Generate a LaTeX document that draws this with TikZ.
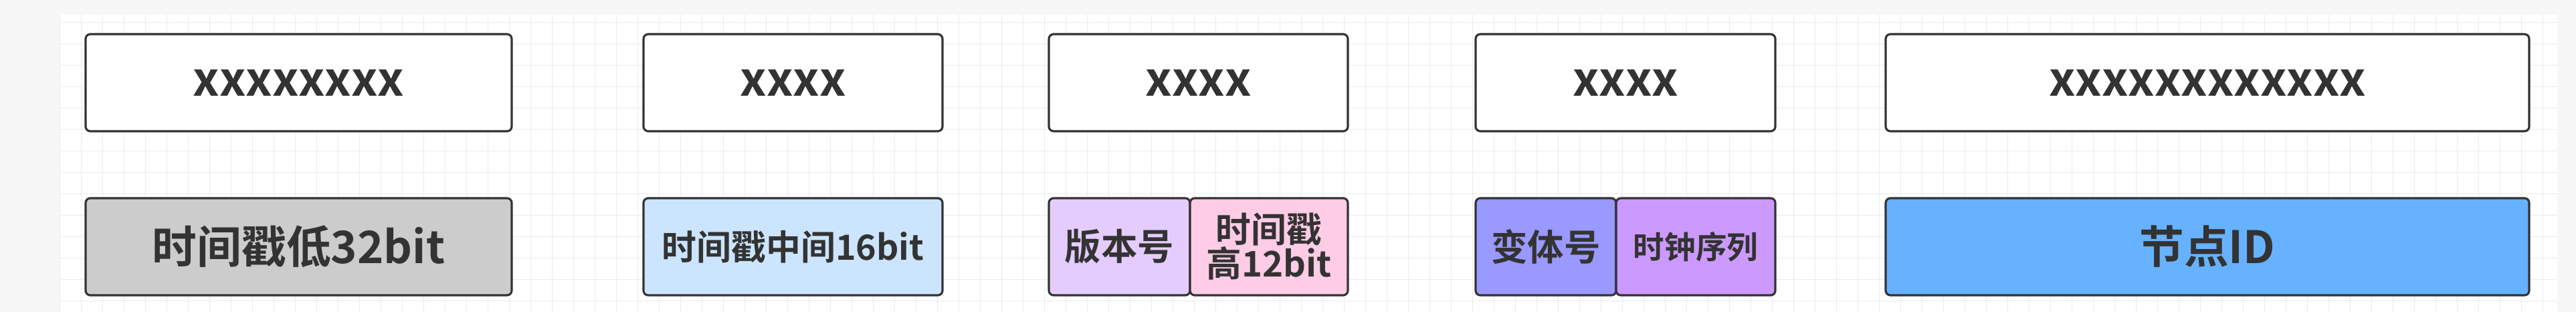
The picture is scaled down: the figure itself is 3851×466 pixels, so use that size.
\documentclass[tikz,border=0pt]{standalone}
\usepackage{fontspec}
\newfontfamily\cjk{Noto Sans CJK SC Bold}
\begin{document}
\begin{tikzpicture}[x=0.02cm,y=-0.02cm,
  cell/.style={draw=black!80,line width=1.8pt,rounded corners=4pt,inner sep=0pt,text=black!80,font=\cjk},
  top/.style={cell,fill=white,font=\cjk\fontsize{40}{44}\selectfont}]
\useasboundingbox (0,0) rectangle (3851,466);
\fill[white] (0,0) rectangle (3851,466);
\fill[black!3] (0,0) rectangle (3851,22);
\fill[black!3] (3823,0) rectangle (3851,466);
\fill[black!3] (0,0) rectangle (89,466);
\begin{scope}
\clip (89,22) rectangle (3823,466);
\foreach \i in {0,...,120} \draw[black!8,line width=0.4pt] (89+32*\i,22) -- (89+32*\i,466);
\foreach \j in {0,...,14} \draw[black!8,line width=0.4pt] (89,33+32*\j) -- (3823,33+32*\j);
\end{scope}
% top row
\node[top,minimum width=637*0.02cm,minimum height=145*0.02cm] (t1) at (446.5,123.5) {xxxxxxxx};
\node[top,minimum width=447*0.02cm,minimum height=145*0.02cm] (t2) at (1185.5,123.5) {xxxx};
\node[top,minimum width=447*0.02cm,minimum height=145*0.02cm] (t3) at (1791.5,123.5) {xxxx};
\node[top,minimum width=448*0.02cm,minimum height=145*0.02cm] (t4) at (2430,123.5) {xxxx};
\node[top,minimum width=962*0.02cm,minimum height=145*0.02cm] (t5) at (3300,123.5) {xxxxxxxxxxxx};
% bottom row
\node[cell,fill=black!20,minimum width=637*0.02cm,minimum height=145*0.02cm,font=\cjk\fontsize{38}{42}\selectfont] (b1) at (446.5,368.5) {时间戳低32bit};
\node[cell,fill={rgb,255:red,204;green,229;blue,255},minimum width=447*0.02cm,minimum height=145*0.02cm,font=\cjk\fontsize{29.5}{32}\selectfont] (b2) at (1185.5,368.5) {时间戳中间16bit};
\node[cell,fill={rgb,255:red,229;green,204;blue,255},minimum width=211*0.02cm,minimum height=145*0.02cm,font=\cjk\fontsize{31}{34}\selectfont] (b3) at (1673.5,368.5) {版本号};
\node[cell,fill={rgb,255:red,255;green,204;blue,230},minimum width=236*0.02cm,minimum height=145*0.02cm,font=\cjk\fontsize{30}{32}\selectfont,align=center] (b4) at (1897,368.5) {时间戳\\[-3pt]高12bit};
\node[cell,fill={rgb,255:red,153;green,153;blue,255},minimum width=210*0.02cm,minimum height=145*0.02cm,font=\cjk\fontsize{31}{34}\selectfont] (b5) at (2311,368.5) {变体号};
\node[cell,fill={rgb,255:red,204;green,153;blue,255},minimum width=238*0.02cm,minimum height=145*0.02cm,font=\cjk\fontsize{26.5}{30}\selectfont] (b6) at (2535,368.5) {时钟序列};
\node[cell,fill={rgb,255:red,102;green,178;blue,255},minimum width=962*0.02cm,minimum height=145*0.02cm,font=\cjk\fontsize{38}{42}\selectfont] (b7) at (3300,368.5) {节点ID};
\end{tikzpicture}
\end{document}
